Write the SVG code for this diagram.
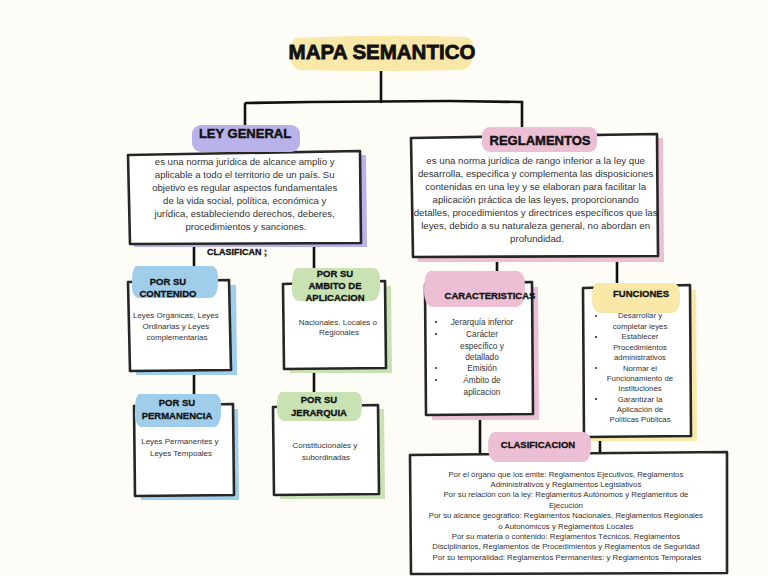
<svg xmlns="http://www.w3.org/2000/svg" width="768" height="576" viewBox="0 0 768 576">
<style>
.bg{fill:#fdfcf6}
.box{fill:#ffffff;stroke:#262626;stroke-width:2.6;stroke-linejoin:round}
.ln{fill:none;stroke:#111;stroke-width:2.6;stroke-linecap:round}
.h{font-family:"Liberation Sans",Arial,sans-serif;font-weight:900;fill:#111;stroke:#111;stroke-width:0.45;text-anchor:middle}
.t{font-family:"Liberation Sans",Arial,sans-serif;fill:#333;text-anchor:middle}
.lav{fill:#b8b1ea}.pink{fill:#ecbfd4}.blue{fill:#9fcdea}.green{fill:#c9e2b3}.yel{fill:#fae8a8}
</style>
<rect class="bg" x="0" y="0" width="768" height="576"/>

<g id="connectors">
<path class="ln" d="M381,70 L381,102"/>
<path class="ln" d="M246,103 L310,102 L450,101 L522,102"/>
<path class="ln" d="M245,104 L245,126"/>
<path class="ln" d="M522,102 L522,130"/>
<path class="ln" d="M194,244 L194,268"/>
<path class="ln" d="M314,244 L314,270"/>
<path class="ln" d="M194,370 L194,395"/>
<path class="ln" d="M314,368 L314,392"/>
<path class="ln" d="M497,257 L497,273"/>
<path class="ln" d="M617,257 L617,284"/>
<path class="ln" d="M480,414 L480,453"/>
<path class="ln" d="M600,437 L600,452"/>
</g>

<g id="title">
<path class="yel" d="M296,38 Q380,34 466,37 Q476,40 473,55 Q472,69 460,70 Q380,72 300,70 Q290,68 291,55 Q290,40 296,38 Z"/>
<text class="h" x="382" y="59" font-size="20.5" style="stroke-width:0.8">MAPA SEMANTICO</text>
</g>

<g id="ley-general">
<path class="lav" d="M133,157 L366,155 L367,247 L134,247 Z"/>
<path class="box" d="M128,155 L360,151 L361,243 L130,244 Z"/>
<rect class="lav" x="192" y="125" width="108" height="27" rx="9"/>
<text class="h" x="245" y="138" font-size="13">LEY GENERAL</text>
<text class="t" font-size="9.6">
<tspan x="246" y="165">es una norma jurídica de alcance amplio y</tspan>
<tspan x="246" y="178">aplicable a todo el territorio de un país. Su</tspan>
<tspan x="246" y="191">objetivo es regular aspectos fundamentales</tspan>
<tspan x="246" y="204">de la vida social, política, económica y</tspan>
<tspan x="246" y="217">jurídica, estableciendo derechos, deberes,</tspan>
<tspan x="246" y="230">procedimientos y sanciones.</tspan>
</text>
<text class="h" x="237" y="255" font-size="9" style="stroke-width:0.3">CLASIFICAN ;</text>
</g>

<g id="por-su-contenido">
<path class="blue" d="M134,286 L236,285 L237,375 L136,375 Z"/>
<path class="box" d="M128,282 L229,280 L231,370 L130,371 Z"/>
<path class="blue" d="M136,266 L212,266 Q219,268 218,282 Q218,297 210,298 L138,298 Q131,296 132,282 Q132,268 136,266 Z"/>
<text class="h" x="168" y="285" font-size="9.5" style="stroke-width:0.3">POR SU</text>
<text class="h" x="168" y="297" font-size="9.5" style="stroke-width:0.3">CONTENIDO</text>
<text class="t" font-size="8">
<tspan x="177" y="318">Leyes Orgánicas, Leyes</tspan>
<tspan x="177" y="329">Ordinarias y Leyes</tspan>
<tspan x="177" y="340">complementarias</tspan>
</text>
</g>

<g id="por-su-permanencia">
<path class="blue" d="M140,410 L238,409 L239,500 L141,500 Z"/>
<path class="box" d="M134,406 L233,404 L234,495 L135,496 Z"/>
<path class="blue" d="M139,394 L216,394 Q222,396 221,410 Q221,426 214,427 L141,427 Q134,425 135,410 Q135,396 139,394 Z"/>
<text class="h" x="177" y="406" font-size="9.5" style="stroke-width:0.3">POR SU</text>
<text class="h" x="177" y="419" font-size="9.5" style="stroke-width:0.3">PERMANENCIA</text>
<text class="t" font-size="8">
<tspan x="181" y="444">Leyes Permanentes y</tspan>
<tspan x="181" y="456">Leyes Tempoales</tspan>
</text>
</g>

<g id="por-su-ambito">
<path class="green" d="M289,287 L391,286 L392,373 L290,373 Z"/>
<path class="box" d="M283,284 L385,281 L386,368 L284,369 Z"/>
<path class="green" d="M297,268 L374,268 Q381,270 380,285 Q380,300 372,301 L298,301 Q291,299 292,285 Q292,270 297,268 Z"/>
<text class="h" x="335" y="277" font-size="9.5" style="stroke-width:0.3">POR SU</text>
<text class="h" x="335" y="289" font-size="9.5" style="stroke-width:0.3">AMBITO DE</text>
<text class="h" x="335" y="301" font-size="9.5" style="stroke-width:0.3">APLICACION</text>
<text class="t" font-size="8">
<tspan x="339" y="325">Nacionales. Locales o</tspan>
<tspan x="339" y="335">Regionales</tspan>
</text>
</g>

<g id="por-su-jerarquia">
<path class="green" d="M279,410 L384,409 L385,499 L280,499 Z"/>
<path class="box" d="M273,407 L378,405 L379,494 L274,495 Z"/>
<path class="green" d="M281,392 L356,392 Q363,394 362,406 Q362,420 354,421 L283,421 Q276,419 277,406 Q277,394 281,392 Z"/>
<text class="h" x="319" y="403" font-size="9.5" style="stroke-width:0.3">POR SU</text>
<text class="h" x="319" y="416" font-size="9.5" style="stroke-width:0.3">JERARQUIA</text>
<text class="t" font-size="8">
<tspan x="326" y="448">Constitucionales y</tspan>
<tspan x="326" y="460">subordinadas</tspan>
</text>
</g>

<g id="reglamentos">
<path class="pink" d="M417,140 L663,138 L664,262 L418,262 Z"/>
<path class="box" d="M411,138 L657,134 L658,256 L413,257 Z"/>
<rect class="pink" x="482" y="127" width="115" height="25" rx="8"/>
<text class="h" x="540" y="145" font-size="13">REGLAMENTOS</text>
<text class="t" font-size="9.7">
<tspan x="537" y="164">es una norma jurídica de rango inferior a la ley que</tspan>
<tspan x="537" y="177">desarrolla, especifica y complementa las disposiciones</tspan>
<tspan x="537" y="190">contenidas en una ley y se elaboran para facilitar la</tspan>
<tspan x="537" y="203">aplicación práctica de las leyes, proporcionando</tspan>
<tspan x="537" y="216">detalles, procedimientos y directrices específicos que las</tspan>
<tspan x="537" y="229">leyes, debido a su naturaleza general, no abordan en</tspan>
<tspan x="537" y="242">profundidad.</tspan>
</text>
</g>

<g id="caracteristicas">
<path class="pink" d="M430,288 L538,287 L539,420 L432,420 Z"/>
<path class="box" d="M425,285 L532,282 L533,414 L426,415 Z"/>
<path class="pink" d="M430,271 L518,271 Q526,273 525,290 Q525,306 516,307 L432,307 Q424,305 424,290 Q424,273 430,271 Z"/>
<text class="h" x="490" y="299" font-size="9.5" style="stroke-width:0.3">CARACTERISTICAS</text>
<g class="t" font-size="8.3">
<text x="482" y="325">Jerarquía inferior</text>
<text x="482" y="337">Carácter</text>
<text x="482" y="349">específico y</text>
<text x="482" y="360">detallado</text>
<text x="482" y="371">Emisión</text>
<text x="482" y="383">Ámbito de</text>
<text x="482" y="395">aplicacion</text>
</g>
<g fill="#333">
<circle cx="436" cy="322" r="1.1"/><circle cx="436" cy="334" r="1.1"/><circle cx="436" cy="368" r="1.1"/><circle cx="436" cy="380" r="1.1"/>
</g>
</g>

<g id="funciones">
<path class="yel" d="M589,291 L696,290 L697,441 L590,441 Z"/>
<path class="box" d="M583,288 L690,285 L691,436 L584,437 Z"/>
<g class="t" font-size="7.8">
<text x="640" y="318">Desarrollar y</text>
<text x="640" y="329">completar leyes</text>
<text x="640" y="339">Establecer</text>
<text x="640" y="350">Procedimientos</text>
<text x="640" y="360">administrativos</text>
<text x="640" y="371">Normar el</text>
<text x="640" y="381">Funcionamiento de</text>
<text x="640" y="391">Instituciones</text>
<text x="640" y="402">Garantizar la</text>
<text x="640" y="412">Aplicación de</text>
<text x="640" y="422">Políticas Públicas</text>
</g>
<g fill="#333">
<circle cx="596" cy="316" r="1.1"/><circle cx="596" cy="337" r="1.1"/><circle cx="596" cy="368" r="1.1"/><circle cx="596" cy="399" r="1.1"/>
</g>
<path class="yel" d="M597,283 L674,283 Q681,285 680,298 Q680,312 672,313 L599,313 Q592,311 592,298 Q592,285 597,283 Z"/>
<text class="h" x="641" y="297" font-size="9.5" style="stroke-width:0.3">FUNCIONES</text>
</g>

<g id="clasificacion">
<path class="box" d="M410,455 L727,452 L727,573 L411,574 Z"/>
<path class="pink" d="M494,432 L584,432 Q592,434 591,446 Q591,461 583,462 L496,462 Q488,460 488,446 Q488,434 494,432 Z"/>
<text class="h" x="538" y="448" font-size="9.5" style="stroke-width:0.3">CLASIFICACION</text>
<text class="t" font-size="7.85">
<tspan x="567" y="477">Por el órgano que los emite: Reglamentos Ejecutivos, Reglamentos</tspan>
<tspan x="567" y="487">Administrativos y Reglamentos Legislativos</tspan>
<tspan x="567" y="497">Por su relación con la ley: Reglamentos Autónomos y Reglamentos de</tspan>
<tspan x="567" y="508">Ejecución</tspan>
<tspan x="567" y="518">Por su alcance geográfico: Reglamentos Nacionales, Reglamentos Regionales</tspan>
<tspan x="567" y="529">o Autonómicos y Reglamentos Locales</tspan>
<tspan x="567" y="539">Por su materia o contenido: Reglamentos Técnicos, Reglamentos</tspan>
<tspan x="567" y="549">Disciplinarios, Reglamentos de Procedimientos y Reglamentos de Seguridad</tspan>
<tspan x="567" y="560">Por su temporalidad: Reglamentos Permanentes: y Reglamentos Temporales</tspan>
</text>
</g>
</svg>
